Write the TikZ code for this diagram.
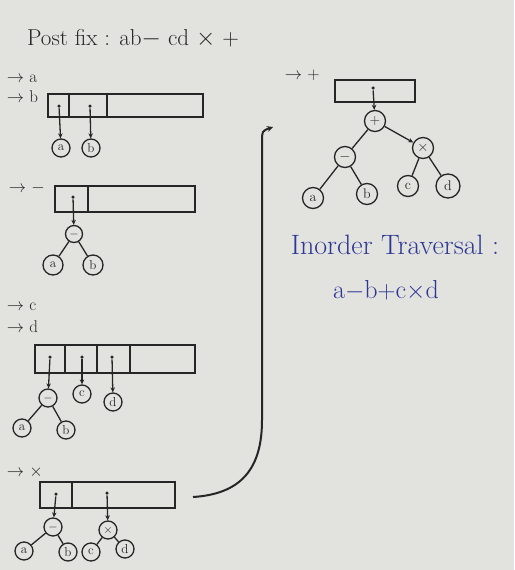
\documentclass[tikz,border=0pt]{standalone}
\usetikzlibrary{arrows.meta}
\definecolor{paper}{RGB}{226,226,223}
\definecolor{ink}{RGB}{38,38,38}
\definecolor{blueink}{RGB}{45,55,150}
\begin{document}
\begin{tikzpicture}[x=1pt,y=-1pt, line width=1.3pt, draw=ink, text=ink,
  vert/.style={draw=ink, circle, minimum size=18pt, inner sep=0pt, font=\fontsize{13}{13}\selectfont},
  bigvert/.style={vert, minimum size=21pt, font=\fontsize{14}{14}\selectfont},
  ptr/.style={-{Stealth[length=5pt,width=4.5pt]}},
  dot/.style={circle, fill=ink, inner sep=0pt, minimum size=3.5pt},
  lbl/.style={font=\fontsize{17}{17}\selectfont, anchor=west},
  cell/.style={draw=ink},
  bluetext/.style={text=blueink}]
\fill[paper] (0,0) rectangle (514,570);
\useasboundingbox (0,0) rectangle (514,570);

% title
\node[font=\fontsize{23}{23}\selectfont] (title) at (133,38) {Post fix : ab$-$ cd $\times$ +};

% step 1
\node[lbl] (la) at (3,79) {$\to$ a};
\node[lbl] (lb) at (3,97) {$\to$ b};
\draw[cell] (48,94) rectangle (203,117);
\draw[cell] (69,94) -- (69,117);
\draw[cell] (107,94) -- (107,117);
\node[dot] (p1a) at (59,106) {};
\node[dot] (p1b) at (90,106) {};
\node[vert] (a1) at (61,148) {a};
\node[vert] (b1) at (91,148) {b};
\draw[ptr] (p1a) -- (a1);
\draw[ptr] (p1b) -- (b1);

% step 2
\node[lbl] (lm) at (5,188) {$\to$ $-$};
\draw[cell] (55,186) rectangle (195,212);
\draw[cell] (88,186) -- (88,212);
\node[dot] (p2) at (73,197) {};
\node[vert, minimum size=17pt] (m2) at (74,234) {$-$};
\node[vert, minimum size=20pt] (a2) at (53,265) {a};
\node[vert, minimum size=20pt] (b2) at (93,265) {b};
\draw[ptr] (p2) -- (m2);
\draw (m2) -- (a2);
\draw (m2) -- (b2);

% step 3
\node[lbl] (lc) at (3,307) {$\to$ c};
\node[lbl] (ld) at (3,327) {$\to$ d};
\draw[cell] (35,345) rectangle (195,373);
\draw[cell] (65,345) -- (65,373);
\draw[cell] (97,345) -- (97,373);
\draw[cell] (130,345) -- (130,373);
\node[dot] (p3a) at (50,357) {};
\node[dot] (p3b) at (82,357) {};
\node[dot] (p3c) at (112,357) {};
\node[vert] (m3) at (48,398) {$-$};
\node[vert] (c3) at (82,394) {c};
\node[vert] (d3) at (113,402) {d};
\node[vert] (a3) at (22,428) {a};
\node[vert] (b3) at (66,430) {b};
\draw[ptr] (p3a) -- (m3);
\draw[ptr] (p3b) -- (c3);
\draw[ptr] (p3c) -- (d3);
\draw (m3) -- (a3);
\draw (m3) -- (b3);

% step 4
\node[lbl] (lx) at (3,472) {$\to$ $\times$};
\draw[cell] (40,482) rectangle (175,508);
\draw[cell] (72,482) -- (72,508);
\node[dot] (p4a) at (56,494) {};
\node[dot] (p4b) at (107,493) {};
\node[vert] (m4) at (53,527) {$-$};
\node[vert] (x4) at (108,530) {$\times$};
\node[vert] (a4) at (24,551) {a};
\node[vert] (b4) at (68,552) {b};
\node[vert] (c4) at (91,552) {c};
\node[vert] (d4) at (125,549) {d};
\draw[ptr] (p4a) -- (m4);
\draw[ptr] (p4b) -- (x4);
\draw (m4) -- (a4);
\draw (m4) -- (b4);
\draw (x4) -- (c4);
\draw (x4) -- (d4);

% big arrow
\coordinate (cs) at (193,497);
\coordinate (ce) at (273,127);
\draw[line width=2pt, -{Stealth[length=6pt,width=6pt]}] (cs) .. controls (240,494) and (262,470) .. (262,420) -- (262,142) .. controls (262,131) .. (ce);

% step 5
\node[lbl] (lp) at (281,75) {$\to$ +};
\draw[cell] (335,80) rectangle (415,102);
\node[dot] (p5) at (373,88) {};
\node[bigvert] (plus) at (375,121) {+};
\node[bigvert] (minus) at (345,157) {$-$};
\node[bigvert] (times) at (423,148) {$\times$};
\node[bigvert] (ra) at (313,198) {a};
\node[bigvert] (rb) at (367,194) {b};
\node[bigvert] (rc) at (408,186) {c};
\node[bigvert, minimum size=24pt] (rd) at (448,186) {d};
\draw[ptr] (p5) -- (plus);
\draw (plus) -- (minus);
\draw[ptr] (plus) -- (times);
\draw (minus) -- (ra);
\draw (minus) -- (rb);
\draw (times) -- (rc);
\draw (times) -- (rd);

% inorder
\node[bluetext, font=\fontsize{28}{28}\selectfont] (inorder) at (395,245) {Inorder Traversal :};
\node[bluetext, font=\fontsize{26}{26}\selectfont] (expr) at (386,291) {a$-$b$+$c$\times$d};
\end{tikzpicture}
\end{document}
